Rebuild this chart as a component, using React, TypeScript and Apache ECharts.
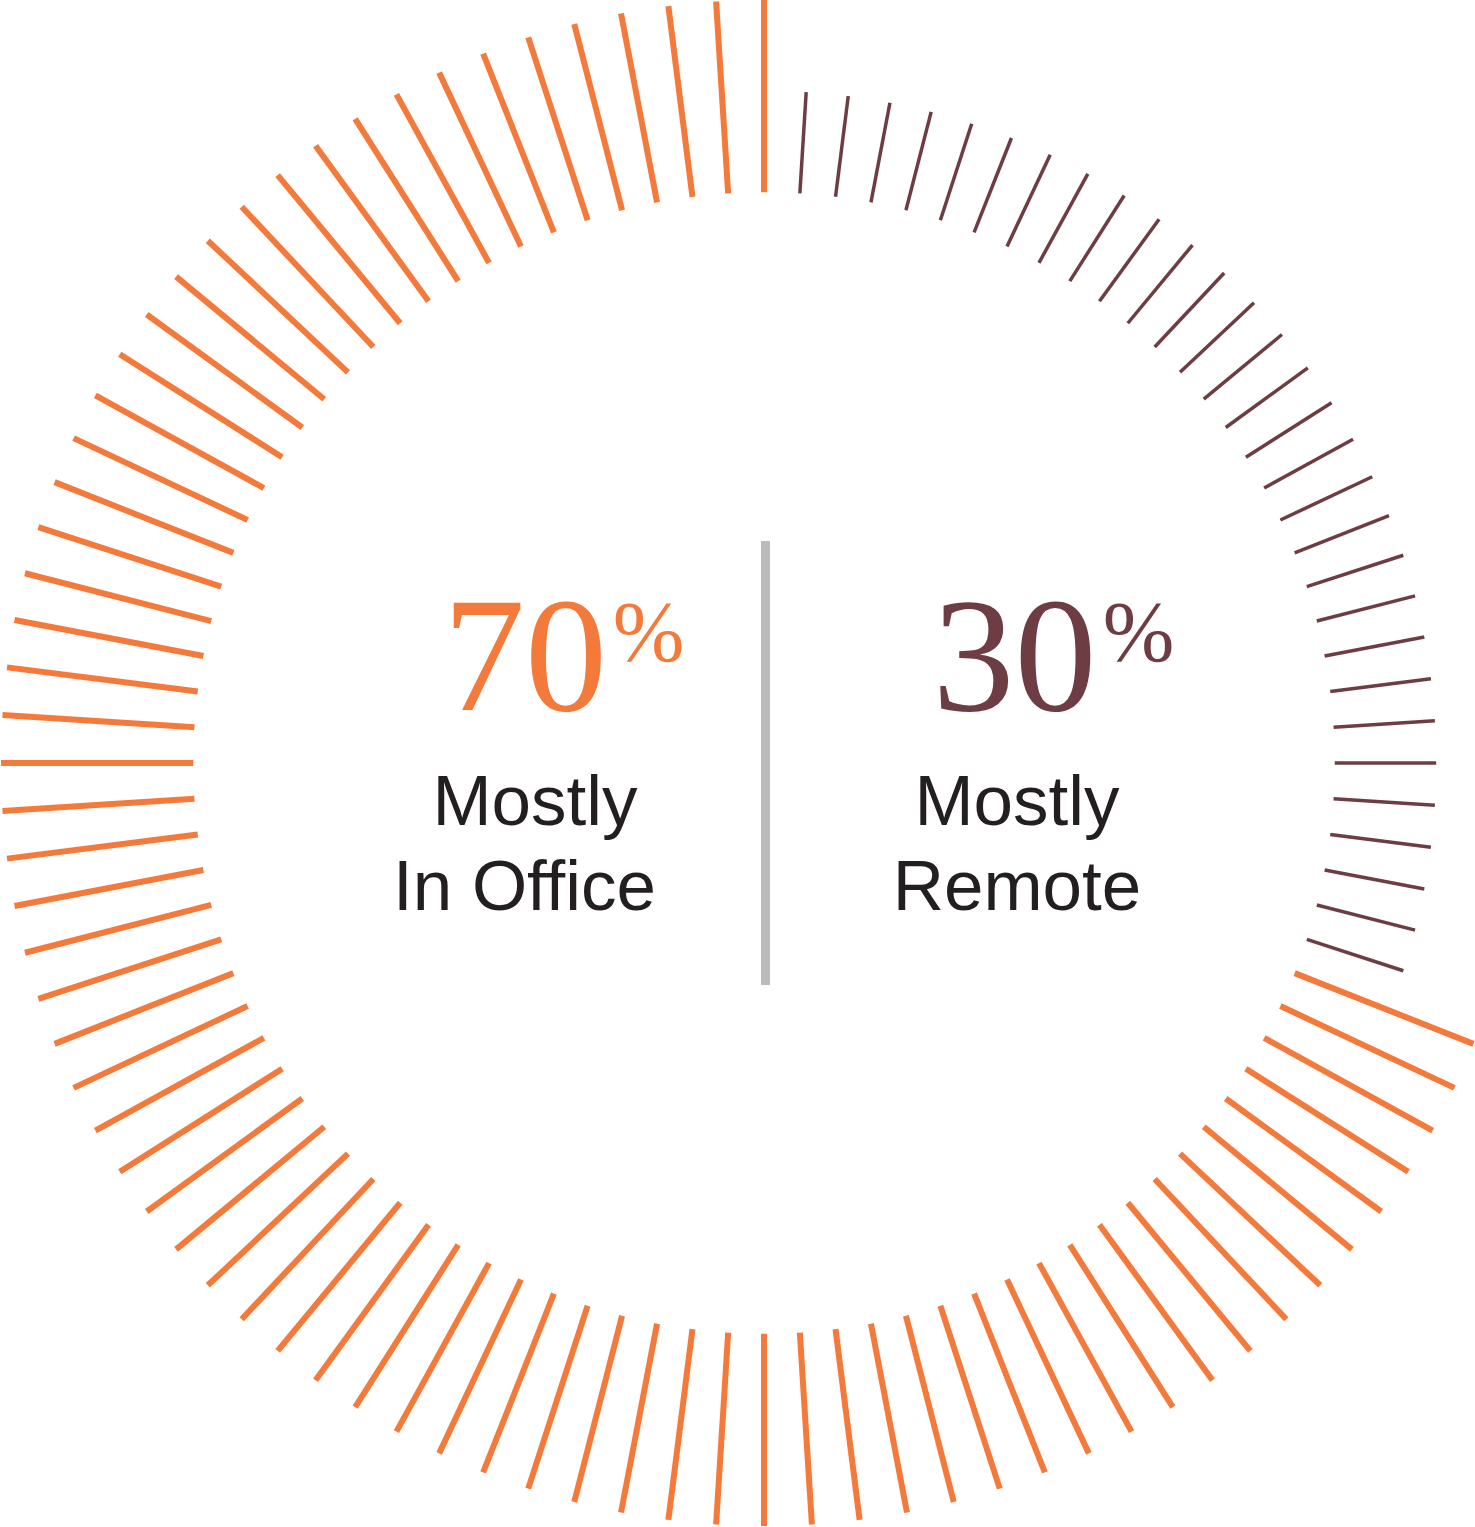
import { useEffect, useRef } from 'react';
import * as echarts from 'echarts';

// shares, in the order the ticks run clockwise from just right of 12 o'clock
const segments = ['Mostly Remote', 'Mostly In Office'];
const shares = [30, 70];
const labelLines = [['Mostly', 'Remote'], ['Mostly', 'In Office']];
const colors = ['#6E3D43', '#F47A3B'];

// tick geometry in radius-axis units (0..100 = centre..outer edge)
const TICK_INNER = 74.8;
const tickOuter = [88.1, 100];
const tickWidth = [3.5, 6];

// where each segment's big number and label sit
const layout = [
  { numX: 1014.5, numY: 654, pctX: 1138.5, pctY: 632, lineX: [1017, 1017] },
  { numX: 525, numY: 654.5, pctX: 648.5, pctY: 632, lineX: [535, 524.5] },
];

export default function App() {
  const chartRef = useRef<HTMLDivElement>(null);

  useEffect(() => {
    if (!chartRef.current) return;
    document.body.style.margin = '0';

    const chart = echarts.init(chartRef.current, null, { renderer: 'svg' });

    // one tick per percent, starting at position 1 (position 100 = top)
    const ticks: number[][] = [];
    let pos = 1;
    shares.forEach((v, s) => {
      for (let j = 0; j < v; j++) {
        ticks.push([tickOuter[s], pos, s]);
        pos++;
      }
    });

    const graphics: any[] = [
      {
        type: 'rect',
        shape: { x: 761, y: 541, width: 9, height: 444 },
        style: { fill: '#BCBCBC' },
      },
    ];

    segments.forEach((name, s) => {
      const l = layout[s];
      graphics.push({
        type: 'text',
        x: l.numX,
        y: l.numY,
        style: {
          text: String(shares[s]),
          font: '164px "Liberation Serif"',
          fill: colors[s],
          align: 'center',
          verticalAlign: 'middle',
        },
      });
      graphics.push({
        type: 'text',
        x: l.pctX,
        y: l.pctY,
        style: {
          text: '%',
          font: '86px "Liberation Serif"',
          fill: colors[s],
          align: 'center',
          verticalAlign: 'middle',
        },
      });
      labelLines[s].forEach((line, k) => {
        graphics.push({
          type: 'text',
          x: l.lineX[k],
          y: 800 + k * 85,
          style: {
            text: line,
            font: '71px "Liberation Sans"',
            fill: '#231F20',
            align: 'center',
            verticalAlign: 'middle',
          },
        });
      });
    });

    const option = {
      animation: false,
      polar: {
        center: [764, 763],
        radius: [0, 763],
      },
      angleAxis: {
        type: 'value',
        min: 0,
        max: 100,
        startAngle: 90,
        clockwise: true,
        show: false,
      },
      radiusAxis: {
        type: 'value',
        min: 0,
        max: 100,
        show: false,
      },
      series: [
        {
          type: 'custom',
          coordinateSystem: 'polar',
          data: ticks,
          renderItem: (params: any, api: any) => {
            const outer = api.value(0);
            const angle = api.value(1);
            const s = api.value(2);
            const p0 = api.coord([TICK_INNER, angle]);
            const p1 = api.coord([outer, angle]);
            return {
              type: 'line',
              shape: { x1: p0[0], y1: p0[1], x2: p1[0], y2: p1[1] },
              style: { stroke: colors[s], lineWidth: tickWidth[s], lineCap: 'butt' },
            };
          },
        },
      ],
      graphic: graphics,
    };

    chart.setOption(option);

    return () => {
      chart.dispose();
    };
  }, []);

  return <div ref={chartRef} style={{ width: '1475px', height: '1527px' }} />;
}
